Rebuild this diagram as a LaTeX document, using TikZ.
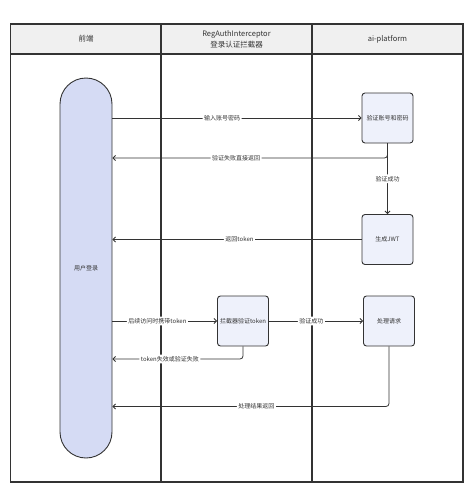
\documentclass[tikz,border=0pt]{standalone}
\usepackage{fontspec}
\setmainfont{Noto Sans CJK SC}
\usetikzlibrary{positioning, arrows.meta}
\definecolor{linegray}{HTML}{333333}
\definecolor{headgray}{HTML}{F0F0F0}
\definecolor{pillblue}{HTML}{D5DBF4}
\definecolor{boxblue}{HTML}{EEF1FB}

\begin{document}
\begin{tikzpicture}[x=1pt, y=-1pt,
    lane/.style={draw=linegray, line width=1.1pt},
    heading/.style={font=\fontsize{7.5}{10.5}\selectfont, text=linegray, align=center},
    stepbox/.style={draw=linegray, fill=boxblue, line width=0.9pt, rounded corners=3pt,
        minimum width=51pt, minimum height=50pt, inner sep=0pt,
        font=\fontsize{6}{7}\selectfont, text=linegray},
    flow/.style={draw=linegray, line width=0.8pt, -{Straight Barb[length=2.5pt,width=5pt]}, rounded corners=3pt},
    lbl/.style={fill=white, inner sep=1.5pt, font=\fontsize{6}{7}\selectfont, text=linegray}]
                \useasboundingbox (0,0) rectangle (474,493);
                % swimlanes
                \fill[headgray] (10.5,24) rectangle (463,54);
                \draw[lane] (10.5,24) rectangle (463,482);
                \draw[lane] (10.5,54) -- (463,54);
                \draw[lane] (161,24) -- (161,482);
                \draw[lane] (312,24) -- (312,482);
                \node[heading] (hfront) at (86,39) {前端};
                \node[heading] (hinter) at (236.5,39.5) {RegAuthInterceptor\\登录认证拦截器};
                \node[heading] (hplat) at (387.5,39) {ai-platform};
                % steps
                \node[draw=linegray, fill=pillblue, line width=0.9pt, rounded corners=26pt,
                    minimum width=52pt, minimum height=380pt, inner sep=0pt,
                    font=\fontsize{6}{7}\selectfont, text=linegray] (login) at (86,268) {用户登录};
                \node[stepbox] (verify) at (387.5,118) {验证账号和密码};
                \node[stepbox] (jwt) at (387.5,239.5) {生成JWT};
                \node[stepbox] (intercept) at (243,321) {拦截器验证token};
                \node[stepbox] (handle) at (389,321) {处理请求};
                \coordinate (failrow) at (0,158);
                \coordinate (expirerow) at (0,359);
                \coordinate (resultrow) at (0,406.5);
                % messages
                \draw[flow] (login.east |- verify) -- node[lbl, pos=0.44] {输入账号密码} (verify.west);
                \draw[flow] (verify.south) |- node[lbl, pos=0.775] {验证失败直接返回} (login.east |- failrow);
                \draw[flow] (verify.south) -- node[lbl] {验证成功} (jwt.north);
                \draw[flow] (jwt.west) -- node[lbl, pos=0.49] {返回token} (login.east |- jwt);
                \draw[flow] (login.east |- intercept) -- node[lbl, pos=0.43] {后续访问时携带token} (intercept.west);
                \draw[flow] (intercept.east) -- node[lbl, pos=0.45] {验证成功} (handle.west);
                \draw[flow] (intercept.south) |- node[lbl, pos=0.78] {token失效或验证失败} (login.east |- expirerow);
                \draw[flow] (handle.south) |- node[lbl, pos=0.74] {处理结果返回} (login.east |- resultrow);
\end{tikzpicture}
\end{document}
